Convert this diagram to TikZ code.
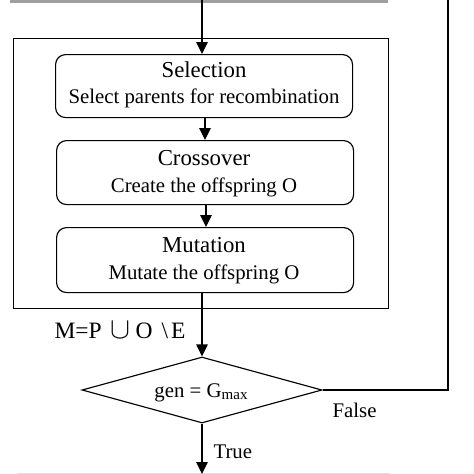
\documentclass[tikz,border=0pt]{standalone}
\usepackage{fontspec}
\setmainfont{Liberation Serif}
\usetikzlibrary{shapes.geometric,arrows.meta}
\begin{document}
\begin{tikzpicture}[x=1pt,y=-1pt,
  line width=1.15pt,
  arr/.style={-{Triangle[length=12pt,width=11.5pt]}},
  stepbox/.style={draw,rounded corners=10pt,minimum width=297pt,minimum height=63pt,inner sep=0pt,anchor=north west},
  ttl/.style={anchor=base,inner sep=0pt,font=\fontsize{22.8}{26}\selectfont},
  sub/.style={anchor=base,inner sep=0pt,font=\fontsize{20.8}{24}\selectfont},
  lbl/.style={anchor=base west,inner sep=0pt,font=\fontsize{20.8}{24}\selectfont}]
\useasboundingbox (0,0) rectangle (474,474);
% partial boxes at top and bottom
\fill[gray!75] (10,0) rectangle (388,2.5);
\fill[gray!25] (17,472.5) rectangle (390,474);
% outer box
\node[draw,minimum width=375pt,minimum height=270pt,inner sep=0pt,anchor=north west] (outer) at (13,38) {};
% step boxes
\node[stepbox] (sel) at (55,54) {};
\node[stepbox,minimum height=64pt] (cro) at (56,140) {};
\node[stepbox,minimum height=65pt] (mut) at (56,227) {};
\node[ttl] (selt) at (204,77) {Selection};
\node[sub] (sels) at (204,103) {Select parents for recombination};
\node[ttl] (crot) at (204,165) {Crossover};
\node[sub] (cros) at (204,192) {Create the offspring O};
\node[ttl] (mutt) at (204,252) {Mutation};
\node[sub] (muts) at (204,279) {Mutate the offspring O};
% decision
\node[draw,diamond,aspect=3.64,minimum width=240pt,minimum height=66pt,inner sep=0pt] (dec) at (202,390) {};
\node[sub] (dect) at (201,397) {gen = G\raisebox{-2pt}{\fontsize{15}{18}\selectfont max}};
% free ends
\coordinate (top) at (202,0);
\coordinate (topr) at (448,0);
\coordinate (corner) at (448,390);
\coordinate (bot) at (202,474);
% connectors
\draw[arr] (top) -- (sel.north -| top);
\draw[arr] (sel.south -| 205,0) -- (cro.north -| 205,0);
\draw[arr] (cro.south -| 206,0) -- (mut.north -| 206,0);
\draw[arr] (mut.south -| dec.north) -- (dec.north);
\draw (dec.east) -- (corner) -- (topr);
\draw[arr] (dec.south) -- (bot);
% labels
\node[lbl,font=\fontsize{23.5}{26}\selectfont] (mlbl) at (54,338) {M=P\hspace{9pt}\scalebox{1.2}{$\cup$}\hspace{5pt}O\hspace{9pt}\textbackslash\hspace{3pt}E};
\node[lbl] (flbl) at (332,417) {False};
\node[lbl] (tlbl) at (213,458) {True};
\end{tikzpicture}
\end{document}
